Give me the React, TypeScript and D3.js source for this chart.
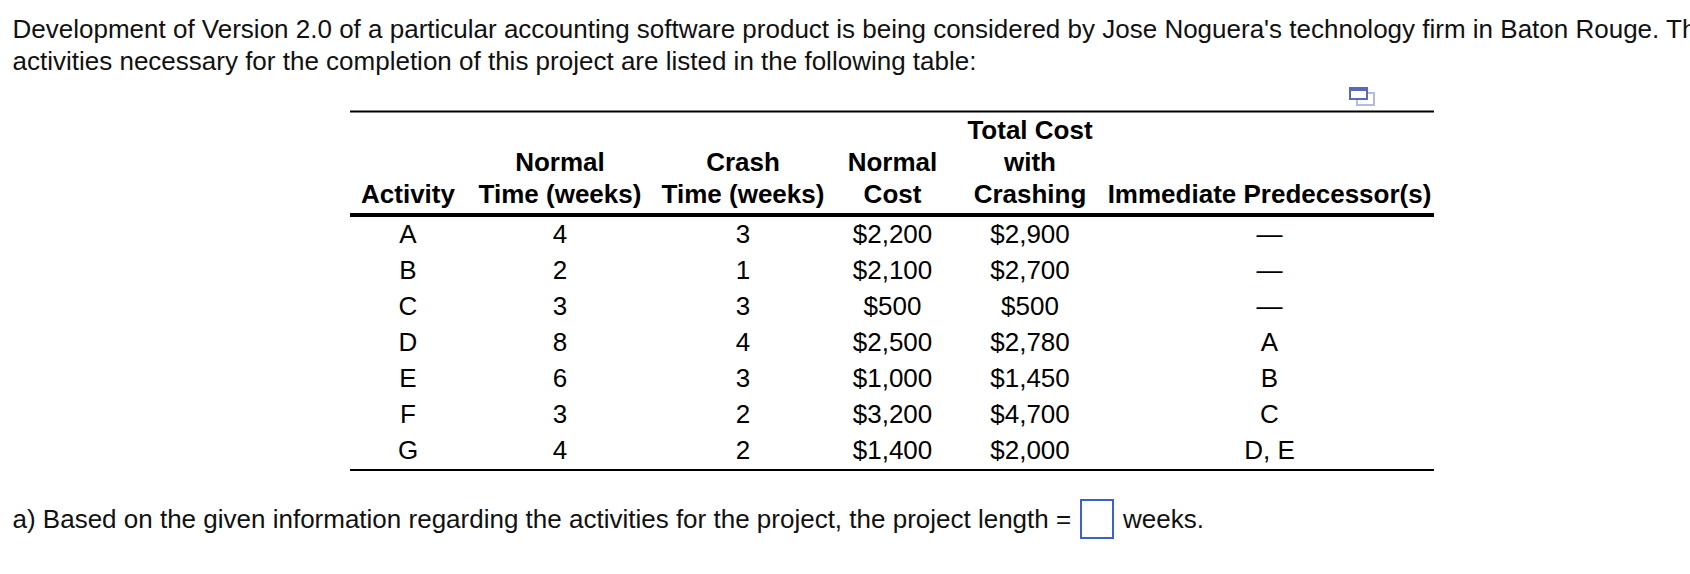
import React from 'react';
import * as d3 from 'd3';

const introLines = [
  "Development of Version 2.0 of a particular accounting software product is being considered by Jose Noguera's technology firm in Baton Rouge. The",
  'activities necessary for the completion of this project are listed in the following table:',
];
const activities = ['A', 'B', 'C', 'D', 'E', 'F', 'G'];
const normalTimes = ['4', '2', '3', '8', '6', '3', '4'];
const crashTimes = ['3', '1', '3', '4', '3', '2', '2'];
const normalCosts = ['$2,200', '$2,100', '$500', '$2,500', '$1,000', '$3,200', '$1,400'];
const crashCosts = ['$2,900', '$2,700', '$500', '$2,780', '$1,450', '$4,700', '$2,000'];
const predecessors = ['—', '—', '—', 'A', 'B', 'C', 'D, E'];
const headers = [
  ['Activity'],
  ['Normal', 'Time (weeks)'],
  ['Crash', 'Time (weeks)'],
  ['Normal', 'Cost'],
  ['Total Cost', 'with', 'Crashing'],
  ['Immediate Predecessor(s)'],
];
const columns = [activities, normalTimes, crashTimes, normalCosts, crashCosts, predecessors];
const columnCenters = [408, 560, 743, 892.5, 1030, 1269.5];

const font = 'Liberation Sans, Arial, sans-serif';

const App = () => {
  const y = d3.scaleBand<string>().domain(activities).range([216, 468]);
  const headerLine = (fromBottom: number) => 203 - fromBottom * 32;

  return (
    <svg
      width={1690}
      height={574}
      style={{ position: 'absolute', left: 0, top: 0, background: '#fff', fontFamily: font }}
    >
      {introLines.map((t, i) => (
        <text key={i} x={12.5} y={37.5 + i * 32} fontSize={26} fill="#111">
          {t}
        </text>
      ))}

      <line x1={350} x2={1434} y1={111.5} y2={111.5} stroke="#000" strokeWidth={2} />
      <line x1={350} x2={1434} y1={215} y2={215} stroke="#000" strokeWidth={4} />
      <line x1={350} x2={1434} y1={470} y2={470} stroke="#000" strokeWidth={2} />

      {headers.map((lines, c) =>
        lines.map((t, i) => (
          <text
            key={c + '-' + i}
            x={columnCenters[c]}
            y={headerLine(lines.length - 1 - i)}
            textAnchor="middle"
            fontSize={26}
            fontWeight="bold"
          >
            {t}
          </text>
        )),
      )}

      {columns.map((col, c) =>
        col.map((t, r) => (
          <text
            key={c + '-' + r}
            x={columnCenters[c]}
            y={(y(activities[r]) ?? 0) + y.bandwidth() / 2 + 9}
            textAnchor="middle"
            fontSize={26}
          >
            {t}
          </text>
        )),
      )}

      <text x={12.5} y={527.5} fontSize={26} fill="#111">
        a) Based on the given information regarding the activities for the project, the project length =
      </text>
      <rect x={1081} y={500} width={32} height={38} fill="#fff" stroke="#3b63c4" strokeWidth={2} />
      <text x={1123} y={527.5} fontSize={26} fill="#111">
        weeks.
      </text>

      <g fill="none">
        <rect x={1357} y={93} width={17} height={12} stroke="#b4bbdf" strokeWidth={2} />
        <rect x={1350} y={88} width={17} height={11} fill="#fff" stroke="#5a68b8" strokeWidth={2} />
        <rect x={1350} y={88} width={17} height={3} fill="#5a68b8" />
      </g>
    </svg>
  );
};

export default App;
